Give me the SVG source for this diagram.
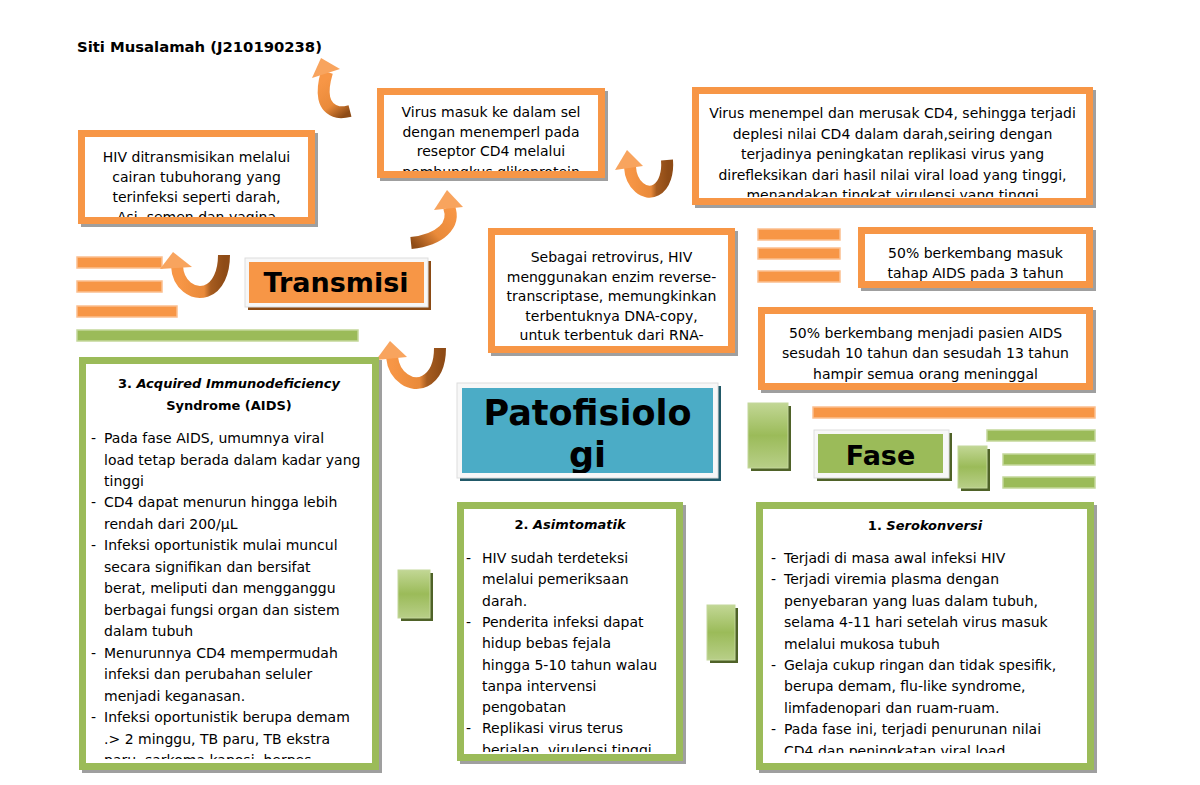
<svg xmlns="http://www.w3.org/2000/svg" width="1200" height="785" viewBox="0 0 1200 785">
<style>
.bg{fill:#FFFFFF}
.sh{fill:#7F7F7F;opacity:.75}
.ob{fill:#F79646}
.gb{fill:#9BBB59}
.in{fill:#FFFFFF}
.t{font-family:"DejaVu Sans","Liberation Sans",sans-serif;font-size:14px;fill:#000}
.c{text-anchor:middle}
.h{font-family:"DejaVu Sans","Liberation Sans",sans-serif;font-size:13px;font-weight:bold;fill:#000}
.i{font-style:italic}
.big{font-family:"DejaVu Sans","Liberation Sans",sans-serif;font-weight:bold;font-size:27px;fill:#000;text-anchor:middle}
.barO{fill:#F79646;stroke:#FBBF8F;stroke-width:1.5}
.barG{fill:#9BBB59;stroke:#C4D79B;stroke-width:1.5}
.blk{fill:url(#gBlk);stroke:#C4D79B;stroke-width:1}
.blksh{fill:#4F6228}
.frame{fill:#F7F7F7;stroke:#DDDDDD;stroke-width:1}
.arr{fill:none;stroke-width:12}
.head{fill:#F8A45E}
</style>
<defs>
<linearGradient id="gBlk" x1="0" y1="0" x2="0" y2="1">
<stop offset="0" stop-color="#C2D795"/>
<stop offset="0.5" stop-color="#9BBB59"/>
<stop offset="1" stop-color="#B8CF88"/>
</linearGradient>
<linearGradient id="gA" gradientUnits="userSpaceOnUse" x1="325" y1="80" x2="349" y2="112">
<stop offset="0" stop-color="#F79646"/><stop offset="0.6" stop-color="#E98A3A"/><stop offset="1" stop-color="#8E4B16"/>
</linearGradient>
<linearGradient id="gB" gradientUnits="userSpaceOnUse" x1="180" y1="0" x2="224" y2="0">
<stop offset="0" stop-color="#F79646"/><stop offset="0.55" stop-color="#E98A3A"/><stop offset="0.7" stop-color="#A65C20"/><stop offset="1" stop-color="#8E4B16"/>
</linearGradient>
<linearGradient id="gC" gradientUnits="userSpaceOnUse" x1="450" y1="207" x2="412" y2="243">
<stop offset="0" stop-color="#F79646"/><stop offset="0.55" stop-color="#E98A3A"/><stop offset="1" stop-color="#8E4B16"/>
</linearGradient>
<linearGradient id="gD" gradientUnits="userSpaceOnUse" x1="630" y1="0" x2="668" y2="0">
<stop offset="0" stop-color="#F79646"/><stop offset="0.55" stop-color="#E98A3A"/><stop offset="0.7" stop-color="#A65C20"/><stop offset="1" stop-color="#8E4B16"/>
</linearGradient>
<linearGradient id="gE" gradientUnits="userSpaceOnUse" x1="392" y1="0" x2="442" y2="0">
<stop offset="0" stop-color="#F79646"/><stop offset="0.55" stop-color="#E98A3A"/><stop offset="0.7" stop-color="#A65C20"/><stop offset="1" stop-color="#8E4B16"/>
</linearGradient>
<clipPath id="c-hiv"><rect x="85" y="137" width="223" height="80"/></clipPath>
<clipPath id="c-masuk"><rect x="384" y="95" width="214" height="76"/></clipPath>
<clipPath id="c-menempel"><rect x="699" y="94" width="387" height="103"/></clipPath>
<clipPath id="c-aids50"><rect x="765" y="314" width="321" height="69"/></clipPath>
<clipPath id="c-aids"><rect x="86" y="364" width="286" height="395"/></clipPath>
<clipPath id="c-asim"><rect x="464" y="509" width="212" height="243"/></clipPath>
<clipPath id="c-sero"><rect x="763" y="509" width="324" height="244"/></clipPath>
<clipPath id="c-pato"><rect x="462" y="388" width="251" height="85"/></clipPath>
</defs>
<rect class="bg" x="0" y="0" width="1200" height="785"/>

<g id="title">
<text x="77" y="52" style="font-family:'DejaVu Sans','Liberation Sans',sans-serif;font-size:14.8px;font-weight:bold">Siti Musalamah (J210190238)</text>
</g>

<g id="decor">
<rect class="barO" x="77" y="257" width="85" height="11"/>
<rect class="barO" x="77" y="281" width="85" height="11"/>
<rect class="barO" x="77" y="306" width="100" height="11"/>
<rect class="barG" x="77" y="330" width="281" height="11"/>
<rect class="barO" x="758" y="229" width="82" height="11"/>
<rect class="barO" x="758" y="248" width="82" height="11"/>
<rect class="barO" x="758" y="271" width="82" height="11"/>
<rect class="barO" x="813" y="407" width="282" height="11"/>
<rect class="barG" x="987" y="430" width="108" height="11"/>
<rect class="barG" x="1003" y="454" width="92" height="11"/>
<rect class="barG" x="1003" y="477" width="92" height="11"/>
<rect class="blksh" x="751" y="406" width="40" height="65"/>
<rect class="blk" x="748" y="403" width="40" height="65"/>
<rect class="blksh" x="961" y="449" width="29" height="42"/>
<rect class="blk" x="958" y="446" width="29" height="42"/>
<rect class="blksh" x="710" y="608" width="28" height="55"/>
<rect class="blk" x="707" y="605" width="28" height="55"/>
<rect class="blksh" x="401" y="573" width="32" height="48"/>
<rect class="blk" x="398" y="570" width="32" height="48"/>
</g>

<g id="connectors">
<path class="arr" stroke="url(#gA)" d="M 327 72 C 321 92 322 108 338 112 C 342 113 346 112 350 111"/>
<polygon class="head" points="321,58 340,69 312,78"/>
<path class="arr" stroke="url(#gB)" d="M 177 266 C 178 285 193 295 206 291 C 218 287 224 272 224 255"/>
<polygon class="head" points="173,252 192,267 160,269"/>
<path class="arr" stroke="url(#gC)" d="M 449 207 C 456 225 440 240 411 243"/>
<polygon class="head" points="447,190 463,207 434,210"/>
<path class="arr" stroke="url(#gD)" d="M 630 167 C 631 185 645 196 656 190 C 665 185 668 172 667 160"/>
<polygon class="head" points="627,150 643,166 615,170"/>
<path class="arr" stroke="url(#gE)" d="M 392 357 C 394 377 412 388 425 381 C 436 375 440 362 440 348"/>
<polygon class="head" points="390,341 407,357 376,360"/>
</g>

<g id="n-hiv">
<rect class="sh" x="81" y="133" width="237" height="94"/>
<rect class="ob" x="78" y="130" width="237" height="94"/>
<rect class="in" x="85" y="137" width="223" height="80"/>
<text class="t c" clip-path="url(#c-hiv)"><tspan x="196.5" y="162">HIV ditransmisikan melalui</tspan><tspan x="196.5" y="182">cairan tubuhorang yang</tspan><tspan x="196.5" y="202">terinfeksi seperti darah,</tspan><tspan x="196.5" y="222">Asi, semen dan vagina</tspan></text>
</g>

<g id="n-masuk">
<rect class="sh" x="380" y="91" width="228" height="90"/>
<rect class="ob" x="377" y="88" width="228" height="90"/>
<rect class="in" x="384" y="95" width="214" height="76"/>
<text class="t c" clip-path="url(#c-masuk)"><tspan x="491" y="117">Virus masuk ke dalam sel</tspan><tspan x="491" y="136.5">dengan menemperl pada</tspan><tspan x="491" y="156">reseptor CD4 melalui</tspan><tspan x="491" y="176.5">pembungkus glikoprotein</tspan></text>
</g>

<g id="n-menempel">
<rect class="sh" x="695" y="90" width="401" height="118"/>
<rect class="ob" x="692" y="87" width="401" height="118"/>
<rect class="in" x="699" y="94" width="387" height="104"/>
<text class="t c" clip-path="url(#c-menempel)"><tspan x="892.5" y="118">Virus menempel dan merusak CD4, sehingga terjadi</tspan><tspan x="892.5" y="138.5">deplesi nilai CD4 dalam darah,seiring dengan</tspan><tspan x="892.5" y="159">terjadinya peningkatan replikasi virus yang</tspan><tspan x="892.5" y="179.5">direfleksikan dari hasil nilai viral load yang tinggi,</tspan><tspan x="892.5" y="200">menandakan tingkat virulensi yang tinggi</tspan></text>
</g>

<g id="n-retro">
<rect class="sh" x="491" y="231" width="247" height="125"/>
<rect class="ob" x="488" y="228" width="247" height="125"/>
<rect class="in" x="495" y="235" width="233" height="111"/>
<text class="t c"><tspan x="611.5" y="262">Sebagai retrovirus, HIV</tspan><tspan x="611.5" y="281.5">menggunakan enzim reverse-</tspan><tspan x="611.5" y="301">transcriptase, memungkinkan</tspan><tspan x="611.5" y="320.5">terbentuknya DNA-copy,</tspan><tspan x="611.5" y="340">untuk terbentuk dari RNA-</tspan></text>
</g>

<g id="n-aids3">
<rect class="sh" x="861" y="230" width="235" height="61"/>
<rect class="ob" x="858" y="227" width="235" height="61"/>
<rect class="in" x="865" y="234" width="221" height="47"/>
<text class="t c"><tspan x="975.5" y="258">50% berkembang masuk</tspan><tspan x="975.5" y="278">tahap AIDS pada 3 tahun</tspan></text>
</g>

<g id="n-aids10">
<rect class="sh" x="761" y="310" width="335" height="83"/>
<rect class="ob" x="758" y="307" width="335" height="83"/>
<rect class="in" x="765" y="314" width="321" height="69"/>
<text class="t c" clip-path="url(#c-aids50)"><tspan x="925.5" y="338">50% berkembang menjadi pasien AIDS</tspan><tspan x="925.5" y="358">sesudah 10 tahun dan sesudah 13 tahun</tspan><tspan x="925.5" y="379">hampir semua orang meninggal</tspan></text>
</g>

<g id="n-transmisi">
<rect x="248" y="261" width="183" height="49" fill="#8A4A14"/>
<rect class="frame" x="245" y="258" width="183" height="49"/>
<rect class="ob" x="249" y="262" width="175" height="41"/>
<text class="big" x="336" y="292">Transmisi</text>
</g>

<g id="n-pato">
<rect x="460" y="386" width="261" height="95" fill="#215968"/>
<rect class="frame" x="457" y="383" width="261" height="95"/>
<rect x="462" y="388" width="251" height="85" fill="#4BACC6"/>
<text class="big" style="font-size:35px" clip-path="url(#c-pato)"><tspan x="587.5" y="425">Patofisiolo</tspan><tspan x="587.5" y="467">gi</tspan></text>
</g>

<g id="n-fase">
<rect x="817" y="433" width="135" height="48" fill="#4F6228"/>
<rect class="frame" x="814" y="430" width="135" height="48"/>
<rect class="gb" x="818" y="434" width="125" height="39"/>
<text class="big" x="880.5" y="465">Fase</text>
</g>

<g id="n-aids">
<rect class="sh" x="82" y="360" width="300" height="413"/>
<rect class="gb" x="79" y="357" width="300" height="413"/>
<rect class="in" x="86" y="364" width="286" height="399"/>
<text class="h c"><tspan x="229" y="388">3. <tspan class="i">Acquired Immunodeficiency</tspan></tspan><tspan x="229" y="410">Syndrome (AIDS)</tspan></text>
<text class="t"><tspan x="91" y="443">-</tspan><tspan x="91" y="507.4">-</tspan><tspan x="91" y="550.4">-</tspan><tspan x="91" y="657.7">-</tspan><tspan x="91" y="722.1">-</tspan></text>
<text class="t" clip-path="url(#c-aids)"><tspan x="104" y="443">Pada fase AIDS, umumnya viral</tspan><tspan x="104" y="464.5">load tetap berada dalam kadar yang</tspan><tspan x="104" y="485.9">tinggi</tspan><tspan x="104" y="507.4">CD4 dapat menurun hingga lebih</tspan><tspan x="104" y="528.9">rendah dari 200/μL</tspan><tspan x="104" y="550.4">Infeksi oportunistik mulai muncul</tspan><tspan x="104" y="571.8">secara signifikan dan bersifat</tspan><tspan x="104" y="593.3">berat, meliputi dan mengganggu</tspan><tspan x="104" y="614.8">berbagai fungsi organ dan sistem</tspan><tspan x="104" y="636.2">dalam tubuh</tspan><tspan x="104" y="657.7">Menurunnya CD4 mempermudah</tspan><tspan x="104" y="679.2">infeksi dan perubahan seluler</tspan><tspan x="104" y="700.6">menjadi keganasan.</tspan><tspan x="104" y="722.1">Infeksi oportunistik berupa demam</tspan><tspan x="104" y="743.6">.&gt; 2 minggu, TB paru, TB ekstra</tspan><tspan x="104" y="765.1">paru, sarkoma kaposi, herpes</tspan></text>
</g>

<g id="n-asim">
<rect class="sh" x="460" y="505" width="226" height="259"/>
<rect class="gb" x="457" y="502" width="226" height="259"/>
<rect class="in" x="464" y="509" width="212" height="245"/>
<text class="h c"><tspan x="570" y="529">2. <tspan class="i">Asimtomatik</tspan></tspan></text>
<text class="t"><tspan x="466" y="563">-</tspan><tspan x="466" y="626.9">-</tspan><tspan x="466" y="733.4">-</tspan></text>
<text class="t" clip-path="url(#c-asim)"><tspan x="482" y="563">HIV sudah terdeteksi</tspan><tspan x="482" y="584.3">melalui pemeriksaan</tspan><tspan x="482" y="605.6">darah.</tspan><tspan x="482" y="626.9">Penderita infeksi dapat</tspan><tspan x="482" y="648.2">hidup bebas fejala</tspan><tspan x="482" y="669.5">hingga 5-10 tahun walau</tspan><tspan x="482" y="690.8">tanpa intervensi</tspan><tspan x="482" y="712.1">pengobatan</tspan><tspan x="482" y="733.4">Replikasi virus terus</tspan><tspan x="482" y="754.7">berjalan, virulensi tinggi</tspan></text>
</g>

<g id="n-sero">
<rect class="sh" x="759" y="505" width="338" height="268"/>
<rect class="gb" x="756" y="502" width="338" height="268"/>
<rect class="in" x="763" y="509" width="324" height="254"/>
<text class="h c"><tspan x="925" y="530">1. <tspan class="i">Serokonversi</tspan></tspan></text>
<text class="t"><tspan x="771" y="563">-</tspan><tspan x="771" y="584.4">-</tspan><tspan x="771" y="670">-</tspan><tspan x="771" y="734.2">-</tspan></text>
<text class="t" clip-path="url(#c-sero)"><tspan x="784" y="563">Terjadi di masa awal infeksi HIV</tspan><tspan x="784" y="584.4">Terjadi viremia plasma dengan</tspan><tspan x="784" y="605.8">penyebaran yang luas dalam tubuh,</tspan><tspan x="784" y="627.2">selama 4-11 hari setelah virus masuk</tspan><tspan x="784" y="648.6">melalui mukosa tubuh</tspan><tspan x="784" y="670">Gelaja cukup ringan dan tidak spesifik,</tspan><tspan x="784" y="691.4">berupa demam, flu-like syndrome,</tspan><tspan x="784" y="712.8">limfadenopari dan ruam-ruam.</tspan><tspan x="784" y="734.2">Pada fase ini, terjadi penurunan nilai</tspan><tspan x="784" y="755.6">CD4 dan peningkatan viral load</tspan></text>
</g>
</svg>
